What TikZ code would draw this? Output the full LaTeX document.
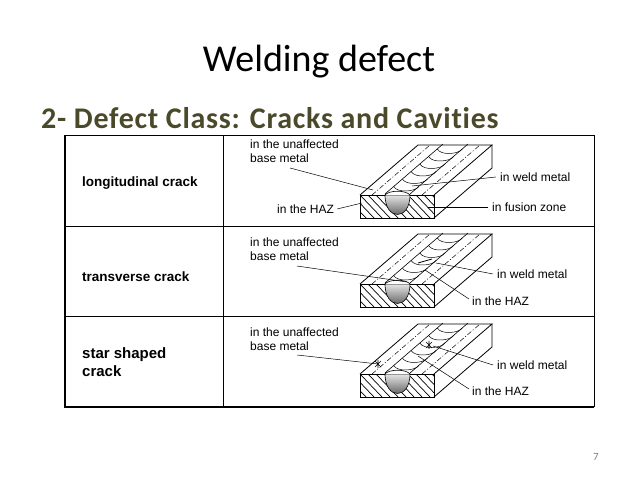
\documentclass[tikz,border=0pt]{standalone}
\usepackage{fontspec}
\setmainfont{Liberation Sans}
\newfontfamily\carl{Carlito}
\newfontfamily\carlsp[LetterSpace=2.5,Ligatures=NoCommon]{Carlito}
\definecolor{olivetxt}{HTML}{4A4A2A}
\tikzset{x=1pt,y=-1pt,
 lbl/.style={font=\fontsize{12}{13.5}\selectfont,align=left,inner sep=0pt},
 cls/.style={font=\fontsize{13.5}{17}\selectfont\bfseries,align=left,anchor=west,inner sep=0pt},
 lead/.style={line width=0.5pt},
 grid/.style={line width=1pt}}
\newcommand{\weldblk}[1]{%
\begin{scope}[shift={(0,#1)}]
 \begin{scope}
  \clip (360,195) rectangle (434,218);
  \foreach \i in {-4,...,11} \draw[line width=0.7pt] (352+\i*8,195) -- ++(22,23);
 \end{scope}
 \fill[white] (360,195) -- (418,145) -- (492,145) -- (434,195) -- cycle;
 \fill[white] (434,195) -- (492,145) -- (492,168) -- (434,218) -- cycle;
 \draw[line width=0.8pt] (360,195) rectangle (434,218);
 \draw[line width=0.8pt] (360,195) -- (418,145) -- (492,145) -- (434,195);
 \draw[line width=0.8pt] (492,145) -- (492,168) -- (434,218);
 \draw[line width=0.5pt,dash pattern=on 5pt off 2pt on 1pt off 2pt] (372,195) -- ++(58,-50);
 \draw[line width=0.5pt,dash pattern=on 5pt off 2pt on 1pt off 2pt] (422,195) -- ++(58,-50);
 \draw[line width=0.6pt] (385,194) -- ++(58,-50);
 \draw[line width=0.6pt] (410,194) -- ++(58,-50);
 \foreach \t in {0.15,0.3,...,0.95}
  \draw[line width=0.5pt] ($(385,194)+\t*(58,-50)$) .. controls +(4,7) and +(-3,5) .. ($(410,194)+\t*(58,-50)$);
 \shade[top color=gray!20,bottom color=black!75,draw=black,line width=0.6pt] (385,195) .. controls (385,221) and (410,221) .. (410,195) -- cycle;
 \draw[line width=0.6pt,fill=white] (385,195) .. controls (389,190) and (406,190) .. (410,195);
\end{scope}}
\usetikzlibrary{calc}
\begin{document}
\begin{tikzpicture}
\useasboundingbox (0,0) rectangle (638,478);
\node[font=\carl\fontsize{38}{44}\selectfont] (title) at (319,62) {Welding defect};
\node[font=\carlsp\bfseries\fontsize{30}{36}\selectfont,text=olivetxt,anchor=west,inner sep=0pt] (sub) at (41,118) {2- Defect Class: Cracks and Cavities};
% table
\draw[grid] (64,136) -- (594,136) -- (594,407);
\draw[line width=1.8pt] (65,136) -- (65,407);
\draw[line width=1.6pt] (64,407) -- (594,407);
\draw[grid] (223,136) -- (223,407);
\draw[grid] (64,227) -- (594,227);
\draw[grid] (64,317) -- (594,317);
\node[cls] (c1) at (82,183) {longitudinal crack};
\node[cls] (c2) at (82,277) {transverse crack};
\node[cls,font=\fontsize{15}{18}\selectfont\bfseries] (c3) at (82,362) {star shaped\\crack};
\weldblk{0}
\weldblk{89}
\weldblk{179}
% row 1 labels
\node[lbl,anchor=north west] (b1) at (250,140) {in the unaffected\\base metal};
\node[lbl,anchor=west] (w1) at (500,177) {in weld metal};
\node[lbl,anchor=west] (h1) at (277,209) {in the HAZ};
\node[lbl,anchor=west] (f1) at (492,207) {in fusion zone};
\coordinate (pb1) at (373,190); \coordinate (pw1) at (412,186);
\coordinate (ph1) at (362,203); \coordinate (pf1) at (428,207);
\draw[lead] (290,168) -- (pb1);
\draw[lead] (w1.west) ++(-4,0) -- (pw1);
\draw[lead] (h1.east) ++(3,0) -- (ph1);
\draw[lead] (f1.west) ++(-4,0) -- (pf1);
% row 2
\node[lbl,anchor=north west] (b2) at (250,238) {in the unaffected\\base metal};
\node[lbl,anchor=west] (w2) at (497,274) {in weld metal};
\node[lbl,anchor=west] (h2) at (472,301) {in the HAZ};
\coordinate (pb2) at (407,282); \coordinate (pw2) at (436,263); \coordinate (ph2) at (425,270);
\draw[line width=0.8pt] (418,263) -- (432,259);
\draw[lead] (297,266) -- (pb2);
\draw[lead] (w2.west) ++(-4,0) -- (pw2);
\draw[lead] (h2.west) ++(-3,-2) -- (ph2);
% row 3
\node[lbl,anchor=north west] (b3) at (250,328) {in the unaffected\\base metal};
\node[lbl,anchor=west] (w3) at (497,365) {in weld metal};
\node[lbl,anchor=west] (h3) at (472,391) {in the HAZ};
\coordinate (pb3) at (378,364); \coordinate (pw3) at (433,346); \coordinate (ph3) at (418,356);
\foreach \c in {(378,364),(429,345)} {\draw[line width=0.6pt] \c ++(-3,-3) -- ++(6,6) \c ++(3,-3) -- ++(-6,6) \c ++(0,-4) -- ++(0,8);}
\draw[lead] (297,355) -- (pb3);
\draw[lead] (w3.west) ++(-4,0) -- (pw3);
\draw[lead] (h3.west) ++(-3,-2) -- (ph3);
\node[font=\carl\fontsize{11}{12}\selectfont,text=gray] (pg) at (596,457) {7};
\end{tikzpicture}
\end{document}
